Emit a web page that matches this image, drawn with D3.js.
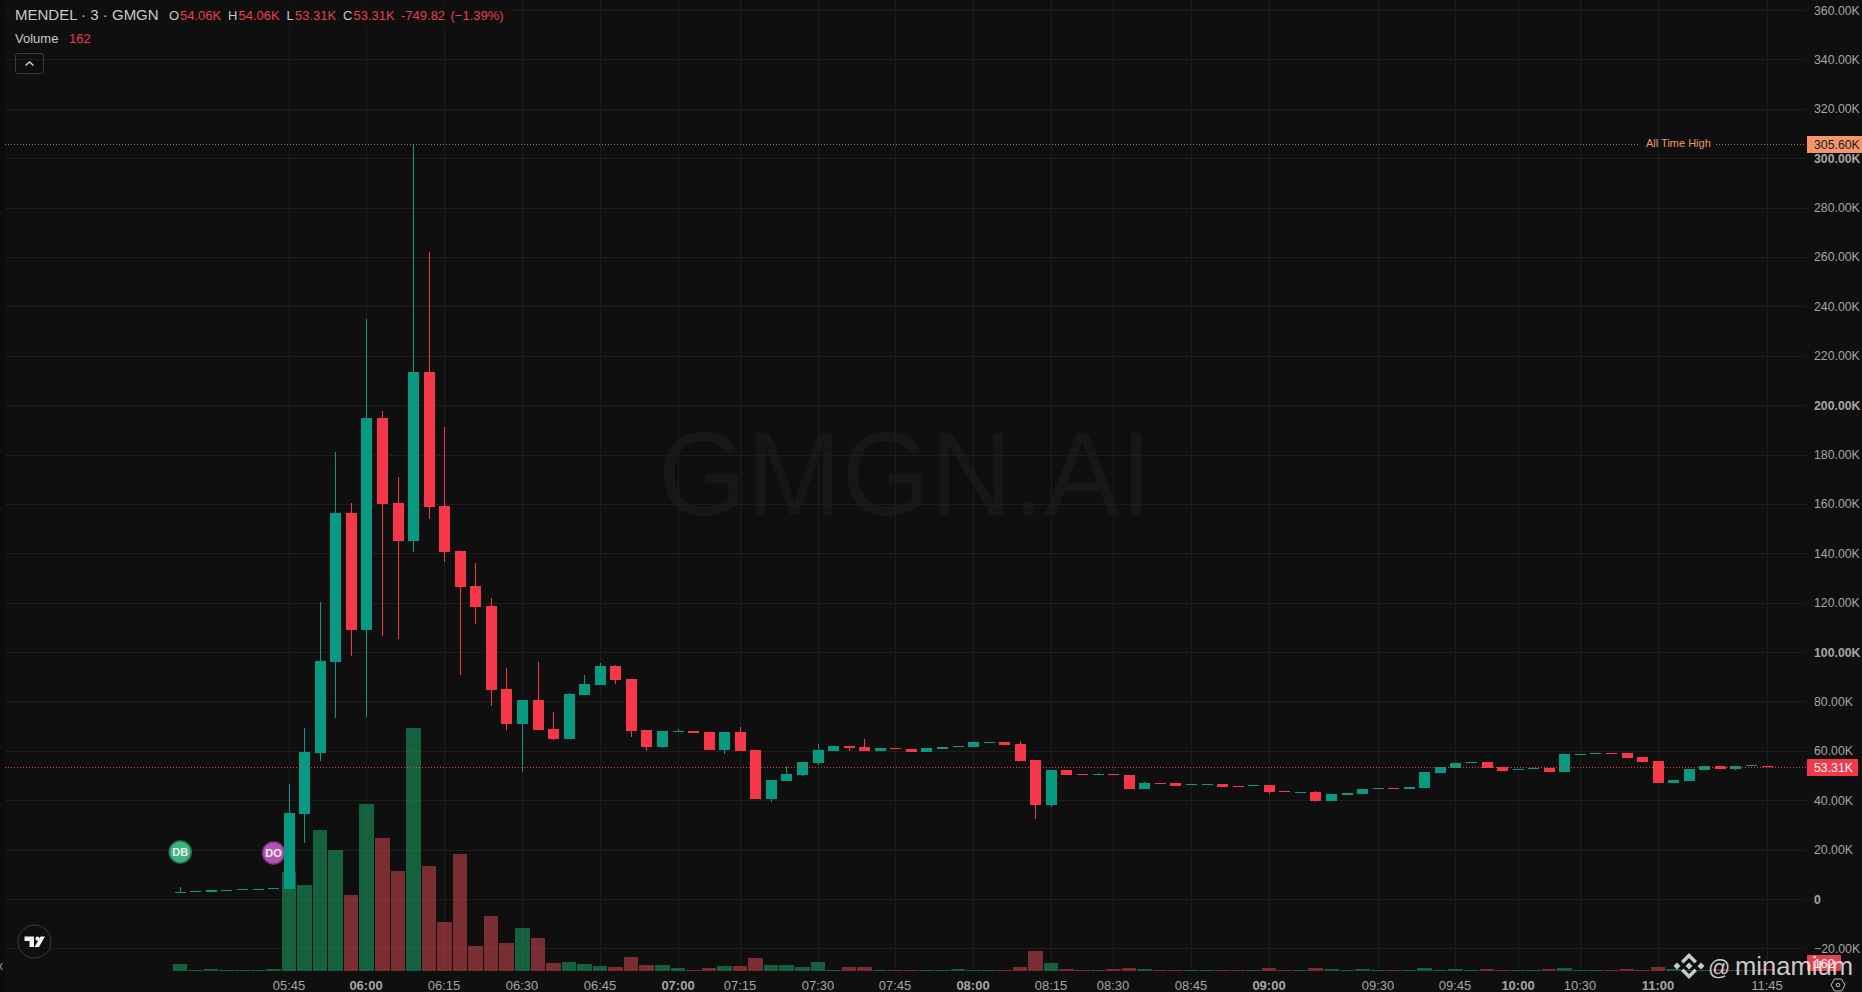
<!DOCTYPE html>
<html><head><meta charset="utf-8">
<script src="https://cdnjs.cloudflare.com/ajax/libs/d3/7.8.5/d3.min.js"></script>
<style>
html,body{margin:0;padding:0;background:#0f0f0f;overflow:hidden}
svg{display:block}
text{font-family:"Liberation Sans",Arial,sans-serif}
</style></head><body>
<svg id="c" width="1862" height="992"></svg>
<script>
// candles, values in thousands
const opens=[2.57,3.0,3.0,3.4,3.8,3.8,4.2,4.05,34.4,59.1,
96,156.3,108.9,194.8,160.4,145,213.4,159.1,140.9,126.7,
118.6,85,70.9,80.6,68.8,64.8,82.6,86.7,94.4,89.1,
68.4,61.6,67.6,68,67.6,60.3,67.6,60.3,40.5,47.8,
50.2,55.1,59.9,62,61.6,59.9,61.2,60.7,59.5,60.7,
61.6,61.6,63.1,63.6,62.8,56.3,38.1,52.2,50.6,50.2,
50.6,50.2,44.5,47,47,46.2,46.2,46.6,45.8,45.8,
46.2,43.8,43,43.4,39.7,42.1,42.5,44.5,44.9,44.5,
44.9,51,53,55.1,55.3,53.4,52.1,52.6,53,51.4,
58.3,58.9,59.1,59.1,57.5,55.9,47,47.8,52.2,53.9,
52.6,53.9,54.06];
const highs=[4.86,3.2,3.7,3.6,4.0,4.0,4.4,46.6,69.2,120.3,
181,160.4,234.9,197.6,170.9,305.6,262,191.1,140.9,136.1,
121.9,93.5,80.6,96,75.7,83.4,90.7,95.6,94.8,89.1,
68.4,68,68.8,68,67.6,67.6,69.6,60.3,48.2,53.9,
55.5,62.8,62,62,64.8,61.2,61.2,60.7,61.2,61.6,
62,63.6,63.5,63.6,64,56.3,52.2,52.2,50.6,51,
50.6,50.2,47.4,47,47,46.6,46.6,46.6,45.8,46.2,
46.2,43.8,43.4,43.8,42.5,42.9,44.5,44.9,44.9,45.3,
51.4,53.3,55.1,55.4,55.3,53.4,52.6,53,53,58.7,
58.7,59.1,59.1,59.1,57.5,55.9,48.2,52.6,53.9,53.9,
53.9,54.3,54.06];
const lows=[2.5,3.0,3.0,3.4,3.8,3.8,4.2,4.05,22.8,55.9,
73.4,98.4,73.8,106.5,105.3,140.5,153.9,136.5,90.7,111.4,
78.2,68.4,51.4,68.4,64.4,64.8,82.6,86.7,87.1,65.6,
59.9,61.2,67.6,67.2,60.3,58.7,59.9,40.5,39.3,47.8,
49.8,54.3,59.9,59.9,59.9,59.9,60.7,59.5,59.5,60.7,
61.6,61.6,63.1,62.4,55.9,32.4,37.3,50.2,50.2,50.2,
50.2,44.5,44.5,46.6,45.8,46.2,46.2,45.4,45.4,45.8,
42.5,43.4,43,39.3,39.7,42.1,42.5,44.5,44.5,44.5,
44.9,51,53,55.1,53,51.8,52.1,52.6,51.4,51.4,
58.3,58.9,58.9,57.1,55.5,47,47,47.8,52.2,52.6,
52.3,53.9,53.31];
const closes=[2.84,3.2,3.7,3.6,4.0,4.0,4.4,34.8,59.5,96.4,
156.3,108.9,194.8,160,145,213.4,158.7,140.5,126.3,118.2,
84.6,70.9,80.6,68.4,64.8,83,87.1,94.4,88.7,68,
61.6,68,67.9,67.2,60.3,67.6,59.9,40.5,48.2,50.6,
55.5,60.3,62,61.2,59.9,61.2,60.7,59.5,61.2,61.6,
62,63.6,63.5,62.4,55.9,38.1,52.2,50.2,50.2,50.6,
50.2,44.5,47,46.6,45.8,46.6,46.6,45.4,45.4,46.2,
43.4,43.4,43.4,39.7,42.5,42.9,44.5,44.9,44.5,45.3,
51.4,53.3,55.1,55.4,53,51.8,52.6,53,51.4,58.7,
58.7,59.1,58.9,57.1,55.5,47,48.2,52.6,53.9,52.6,
53.9,54.3,53.31];
const volumes=[665,95,190,95,95,95,190,9405,8170,13395,
11495,7220,15865,12635,9500,23085,9975,4655,11115,2375,
5225,2660,4085,3135,760,855,665,475,380,1330,
570,570,285,95,285,475,475,1235,570,570,
380,855,95,380,380,95,95,95,95,95,
190,95,95,95,380,1900,760,190,95,95,
190,285,190,95,95,95,95,95,95,95,
285,95,95,285,190,95,190,95,95,95,
285,95,190,95,190,95,95,95,190,285,
95,95,95,190,95,380,190,95,95,190,
95,95,162];
const priceTicks=[-20,0,20,40,60,80,100,120,140,160,180,200,220,240,260,280,300,320,340,360];
const boldPrices=[0,100,200,300];
const timeIdx=[7,12,17,22,27,32,36,41,46,51,56,60,65,70,77,82,86,90,95,102];
const timeLabels=["05:45","06:00","06:15","06:30","06:45","07:00","07:15","07:30","07:45","08:00","08:15","08:30","08:45","09:00","09:30","09:45","10:00","10:30","11:00","11:45"];
const boldTimes=["06:00","07:00","08:00","09:00","10:00","11:00"];
const markers=[{i:0,label:"DB",fill:"#3fb27f",ring:"#1f7a52"},{i:6,label:"DO",fill:"#b553b5",ring:"#7c3a7e"}];
const athValue=305.6, lastValue=53.31;

const BG="#0f0f0f",UP="#089981",DOWN="#f63649",GRID="#1d1d1d",AXIS="#a6a6a6";
const svg=d3.select("#c");
const paneL=5,paneR=1806,paneB=971;
const x=d3.scaleLinear().domain([0,102]).range([180.25,1767.06]);
const y=d3.scaleLinear().domain([0,360]).range([899,10]);
const yV=d3.scaleLinear().domain([0,23085]).range([971,728]);
const cx=i=>Math.floor(x(i));
const idx=d3.range(opens.length);
const up=i=>closes[i]>=opens[i];

svg.append("rect").attr("width",1862).attr("height",992).attr("fill",BG);
svg.append("rect").attr("width",paneL).attr("height",992).attr("fill","#0b0b0b");
svg.append("text").text("x").attr("x",-3).attr("y",970).attr("fill","#999").attr("font-size",12);

// watermark
svg.append("text").text("GMGN.AI").attr("x",658).attr("y",515).attr("font-size",119)
  .attr("textLength",494).attr("lengthAdjust","spacingAndGlyphs").attr("fill","#171717");

// grid
const g=svg.append("g").attr("shape-rendering","crispEdges");
g.selectAll(".h").data(priceTicks).join("line")
  .attr("x1",paneL).attr("x2",paneR).attr("y1",d=>Math.round(y(d))+.5).attr("y2",d=>Math.round(y(d))+.5)
  .attr("stroke",GRID);
g.selectAll(".v").data(timeIdx).join("line")
  .attr("x1",i=>cx(i)+.5).attr("x2",i=>cx(i)+.5).attr("y1",0).attr("y2",paneB)
  .attr("stroke",GRID);

// volume
svg.append("g").attr("shape-rendering","crispEdges").selectAll("rect").data(idx).join("rect")
  .attr("x",i=>cx(i)-7)
  .attr("width",i=>(i<102?cx(i+1)-7-1:cx(i)+7)-(cx(i)-7))
  .attr("y",i=>Math.min(paneB-1,Math.round(yV(volumes[i]))))
  .attr("height",i=>paneB-Math.min(paneB-1,Math.round(yV(volumes[i]))))
  .attr("fill",i=>up(i)?"#1bb16d":"#e54d55").attr("fill-opacity",.5);

// markers
const mk=svg.append("g").selectAll("g").data(markers).join("g")
  .attr("transform",d=>`translate(${x(d.i)},${d.i===0?852:853})`);
mk.append("circle").attr("r",11).attr("fill",d=>d.fill).attr("stroke",d=>d.ring).attr("stroke-width",1.5);
mk.append("text").text(d=>d.label).attr("text-anchor","middle").attr("y",4).attr("fill","#eee")
  .attr("font-size",11).attr("font-weight","bold");

// candles
const cg=svg.append("g").attr("shape-rendering","crispEdges");
cg.selectAll(".w").data(idx).join("rect")
  .attr("x",i=>cx(i)).attr("width",1)
  .attr("y",i=>Math.round(y(highs[i])))
  .attr("height",i=>Math.max(1,Math.round(y(lows[i]))-Math.round(y(highs[i]))))
  .attr("fill",i=>up(i)?UP:DOWN);
cg.selectAll(".b").data(idx).join("rect")
  .attr("x",i=>cx(i)-5).attr("width",11)
  .attr("y",i=>Math.round(y(Math.max(opens[i],closes[i]))))
  .attr("height",i=>Math.max(1,Math.round(y(Math.min(opens[i],closes[i])))-Math.round(y(Math.max(opens[i],closes[i])))))
  .attr("fill",i=>up(i)?UP:DOWN);

// price lines
const yAth=Math.round(y(athValue)),yLast=Math.round(y(lastValue));
const ath=svg.append("g").attr("stroke","#f4966c").attr("stroke-opacity",.7).attr("stroke-dasharray","1,2").attr("shape-rendering","crispEdges");
ath.append("line").attr("x1",paneL).attr("x2",1640).attr("y1",yAth+.5).attr("y2",yAth+.5);
ath.append("line").attr("x1",1716).attr("x2",paneR).attr("y1",yAth+.5).attr("y2",yAth+.5);
svg.append("text").text("All Time High").attr("x",1646).attr("y",yAth+3).attr("font-size",11).attr("fill","#f4966c");
svg.append("line").attr("x1",paneL).attr("x2",paneR).attr("y1",yLast+.5).attr("y2",yLast+.5)
  .attr("stroke",DOWN).attr("stroke-dasharray","1,2").attr("shape-rendering","crispEdges");

// price axis
svg.append("g").selectAll("text").data(priceTicks).join("text")
  .text(d=>d===0?"0":(d3.format(".2f")(d)+"K"))
  .attr("x",1814).attr("y",d=>y(d)+4.5).attr("font-size",12.3).attr("fill",AXIS)
  .attr("font-weight",d=>boldPrices.includes(d)?"bold":"normal");
svg.append("rect").attr("x",1807).attr("y",136).attr("width",55).attr("height",17).attr("fill","#f4966c");
svg.append("text").text("305.60K").attr("x",1814).attr("y",149).attr("font-size",12.3).attr("fill","#1a1a1a");
svg.append("rect").attr("x",1807).attr("y",759).attr("width",51).attr("height",17).attr("rx",1).attr("fill",DOWN);
svg.append("text").text("53.31K").attr("x",1814).attr("y",772).attr("font-size",12.3).attr("fill","#fff");
svg.append("rect").attr("x",1807).attr("y",955).attr("width",34).attr("height",16).attr("rx",1).attr("fill","#e0434f");
svg.append("text").text("162").attr("x",1814).attr("y",968).attr("font-size",12.3).attr("fill","#fff");

// time axis
svg.append("g").selectAll("text").data(timeIdx).join("text")
  .text((d,k)=>timeLabels[k]).attr("x",i=>cx(i)).attr("y",989.5).attr("text-anchor","middle")
  .attr("font-size",13).attr("fill",AXIS)
  .attr("font-weight",(d,k)=>boldTimes.includes(timeLabels[k])?"bold":"normal");

// legend
svg.append("rect").attr("x",10).attr("y",3).attr("width",499).attr("height",23).attr("fill",BG);
svg.append("rect").attr("x",10).attr("y",26).attr("width",86).attr("height",24).attr("fill",BG);
const LEG="#c9c9c9",LR="#e8404e";
const leg=[["MENDEL · 3 · GMGN",15,15,LEG],["O",169,13,LEG],["54.06K",180,13,LR],["H",228,13,LEG],["54.06K",238.5,13,LR],
["L",286.5,13,LEG],["53.31K",295,13,LR],["C",343,13,LEG],["53.31K",353.5,13,LR],["-749.82",401,13,LR],["(−1.39%)",450.5,13,LR]];
svg.append("g").selectAll("text").data(leg).join("text").text(d=>d[0]).attr("x",d=>d[1]).attr("y",d=>d[2]===15?20:19.5)
  .attr("font-size",d=>d[2]).attr("fill",d=>d[3]);
svg.append("text").text("Volume").attr("x",15).attr("y",43).attr("font-size",13).attr("fill",LEG);
svg.append("text").text("162").attr("x",69).attr("y",43).attr("font-size",13).attr("fill",LR);
svg.append("rect").attr("x",15.5).attr("y",53.5).attr("width",28).attr("height",20).attr("rx",2)
  .attr("fill","none").attr("stroke","#3a3a3a");
svg.append("path").attr("d","M25.5 65.5 L29.5 62 L33.5 65.5").attr("fill","none").attr("stroke","#d0d0d0").attr("stroke-width",1.5);

// TradingView badge
svg.append("circle").attr("cx",34.5).attr("cy",941.5).attr("r",16.5).attr("fill",BG).attr("stroke","#3d3d3d");
svg.append("path").attr("d","M24.5 936.5H34V947H29.5V941H24.5Z M40.5 936.5H45L39 947H34.5Z").attr("fill","#f2f2f2");
svg.append("circle").attr("cx",37.5).attr("cy",938.7).attr("r",2.1).attr("fill","#f2f2f2");

// settings glyph
svg.append("path").attr("d","M1831 985 L1834.5 979 H1841.5 L1845 985 L1841.5 991 H1834.5Z").attr("fill","none").attr("stroke","#bdbdbd");
svg.append("circle").attr("cx",1838).attr("cy",985).attr("r",1.8).attr("fill","none").attr("stroke","#bdbdbd");

// overlay signature
const wm=svg.append("g").attr("fill","#fff").attr("fill-opacity",.78);
wm.append("text").text("@").attr("x",1708).attr("y",975).attr("font-size",22);
wm.append("text").text("minamium").attr("x",1735).attr("y",975).attr("font-size",26).attr("textLength",118).attr("lengthAdjust","spacingAndGlyphs");
const dia=(cxx,cyy,r)=>`M${cxx} ${cyy-r}L${cxx+r} ${cyy}L${cxx} ${cyy+r}L${cxx-r} ${cyy}Z`;
wm.append("path").attr("d",dia(1689,966,3.5)+dia(1677,966,3.5)+dia(1701,966,3.5)
  +"M1689 953L1697 961L1694.5 963.5L1689 958L1683.5 963.5L1681 961Z M1689 979L1697 971L1694.5 968.5L1689 974L1683.5 968.5L1681 971Z");
</script>
</body></html>
